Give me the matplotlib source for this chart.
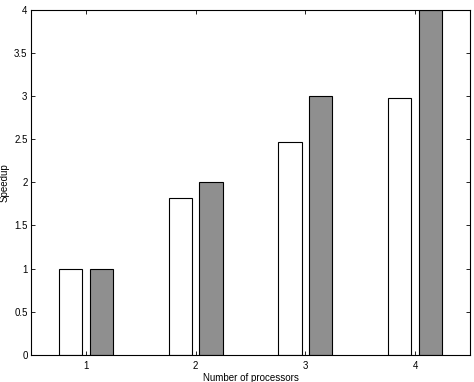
import matplotlib.pyplot as plt
import numpy as np

processors = [1, 2, 3, 4]
measured = [1.0, 1.82, 2.47, 2.97]
ideal = [1.0, 2.0, 3.0, 4.0]
yticks = [0, 0.5, 1, 1.5, 2, 2.5, 3, 3.5, 4]

plt.rcParams['font.family'] = ['Liberation Sans', 'DejaVu Sans']
plt.rcParams['font.size'] = 7

fig = plt.figure(figsize=(4.74, 3.82), dpi=100)
ax = fig.add_axes([31/474, 1 - 355/382, (470-31)/474, (355-9.5)/382])

x = np.array(processors)
w = 0.21
ax.bar(x - 0.14, measured, w, color='white', edgecolor='black', linewidth=0.8)
ax.bar(x + 0.14, ideal, w, color='#8f8f8f', edgecolor='black', linewidth=0.8)

ax.set_xlim(0.5, 4.5)
ax.set_ylim(0, 4)
ax.set_xticks(processors)
ax.set_yticks(yticks)
ax.set_yticklabels([f'{t:g}' for t in yticks])
ax.tick_params(direction='in', top=True, right=True, length=3, width=0.6)
ax.tick_params(axis='y', pad=2.5)
ax.tick_params(axis='x', pad=4)
for s in ax.spines.values():
    s.set_linewidth(0.8)

ax.set_xlabel('Number of processors', labelpad=2)
ax.set_ylabel('Speedup', labelpad=3)

fig.savefig('out.png', dpi=100)
